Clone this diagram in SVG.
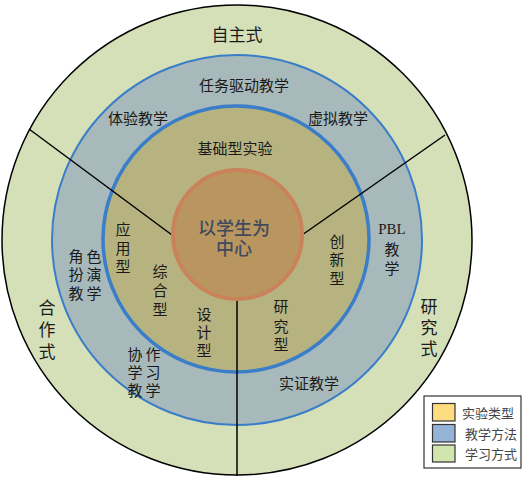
<svg xmlns="http://www.w3.org/2000/svg" width="526" height="479" viewBox="0 0 526 479">
<style>
.t{font-family:"Noto Sans CJK SC","Liberation Sans",sans-serif;font-size:15px;fill:#1a1a1a;text-anchor:middle;dominant-baseline:central}
.big{font-size:17px}
.ctr{font-size:18px;fill:#3e4a5e;font-weight:500}
.lg{font-family:"Noto Sans CJK SC","Liberation Sans",sans-serif;font-size:13px;fill:#444;dominant-baseline:central}
.en{font-family:"Liberation Serif","Noto Sans CJK SC",serif}
.sw{stroke:#333;stroke-width:1.2}
</style>
<rect width="526" height="479" fill="#ffffff"/>
<g id="ring-learning">
<circle cx="237" cy="240" r="235" fill="#d5e0b9" stroke="#000" stroke-width="1.5"/>
<text class="t big" x="237" y="33">自主式</text>
<text class="t big" x="47" y="306">合</text>
<text class="t big" x="47" y="328">作</text>
<text class="t big" x="47" y="350">式</text>
<text class="t big" x="429" y="305">研</text>
<text class="t big" x="429" y="326">究</text>
<text class="t big" x="429" y="347">式</text>
</g>
<g id="ring-method">
<circle cx="237" cy="240" r="185" fill="#a7b9ba" stroke="#3a7dc8" stroke-width="2"/>
<text class="t" x="244" y="84">任务驱动教学</text>
<text class="t" x="138" y="117">体验教学</text>
<text class="t" x="338" y="117">虚拟教学</text>
<text class="t" x="76" y="255">角</text><text class="t" x="94" y="255">色</text>
<text class="t" x="76" y="273">扮</text><text class="t" x="94" y="273">演</text>
<text class="t" x="76" y="292">教</text><text class="t" x="94" y="292">学</text>
<text class="t" x="135" y="353">协</text><text class="t" x="153" y="353">作</text>
<text class="t" x="135" y="371">学</text><text class="t" x="153" y="371">习</text>
<text class="t" x="135" y="389">教</text><text class="t" x="153" y="389">学</text>
<text class="t en" x="392" y="229">PBL</text>
<text class="t" x="392" y="248">教</text>
<text class="t" x="392" y="267">学</text>
<text class="t" x="309" y="382">实证教学</text>
</g>
<g id="ring-experiment">
<circle cx="236" cy="239" r="133" fill="#b7b380" stroke="#3a7dc8" stroke-width="3.5"/>
<text class="t" x="235" y="147">基础型实验</text>
<text class="t" x="123" y="228">应</text>
<text class="t" x="123" y="247">用</text>
<text class="t" x="123" y="265">型</text>
<text class="t" x="160" y="270">综</text>
<text class="t" x="160" y="289">合</text>
<text class="t" x="160" y="308">型</text>
<text class="t" x="204" y="313">设</text>
<text class="t" x="204" y="331">计</text>
<text class="t" x="204" y="349">型</text>
<text class="t" x="281" y="305">研</text>
<text class="t" x="281" y="325">究</text>
<text class="t" x="281" y="343">型</text>
<text class="t" x="337" y="240">创</text>
<text class="t" x="337" y="258">新</text>
<text class="t" x="337" y="277">型</text>
</g>
<g id="connectors" stroke="#000" stroke-width="1.5" fill="none">
<line x1="29" y1="129" x2="172" y2="235"/>
<line x1="445" y1="135" x2="302" y2="235"/>
<line x1="237" y1="299" x2="237" y2="476"/>
</g>
<g id="center">
<circle cx="237.5" cy="234.5" r="64.5" fill="#b9965f" stroke="#c9825a" stroke-width="4"/>
<text class="t ctr" x="234" y="227">以学生为</text>
<text class="t ctr" x="234" y="247">中心</text>
</g>
<g id="legend">
<rect x="424" y="396" width="97" height="72" fill="#fff" stroke="#333" stroke-width="1.2"/>
<rect class="sw" x="432.5" y="403.5" width="22.5" height="17.5" fill="#ffdc7f"/>
<rect class="sw" x="432.5" y="424.5" width="22.5" height="17.5" fill="#95b3d7"/>
<rect class="sw" x="432.5" y="445" width="22.5" height="17" fill="#d1e6ac"/>
<text class="lg" x="462" y="412">实验类型</text>
<text class="lg" x="465" y="433">教学方法</text>
<text class="lg" x="465" y="453">学习方式</text>
</g>
</svg>
